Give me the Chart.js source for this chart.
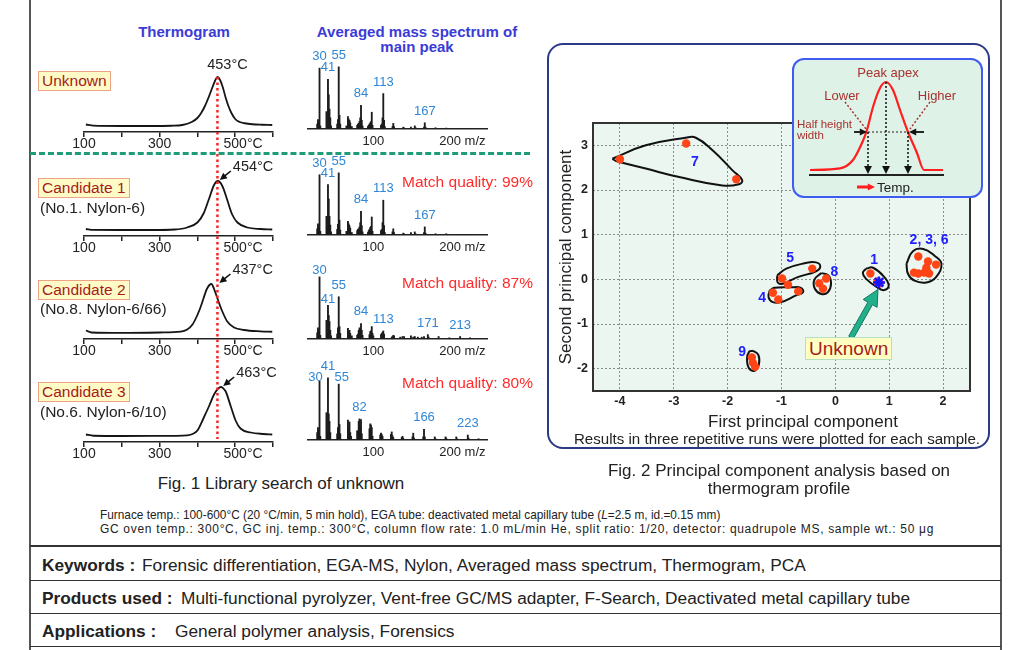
<!DOCTYPE html>
<html>
<head>
<meta charset="utf-8">
<title>EGA-MS library search of nylons and PCA of thermograms</title>
<script src="https://cdn.jsdelivr.net/npm/chart.js@4.4.1/dist/chart.umd.min.js"></script>
<style>
  body { margin: 0; background: #fff; font-family: Arial, "Liberation Sans", Helvetica, sans-serif; color: #222; }
  #page { position: relative; width: 1024px; height: 650px; overflow: hidden; }
  #page > * { position: absolute; }
  .cx { transform: translate(-50%, -50%); white-space: nowrap; }
  .lm { transform: translateY(-50%); white-space: nowrap; }
  .head { color: #3b3bd6; font-weight: bold; font-size: 15px; line-height: 15px; text-align: center; }
  .tag { background: #fffbc6; border: 1px solid #eda386; color: #a51c1c; font-size: 15.5px; line-height: 18px; padding: 0 3px; white-space: nowrap; }
  .sub { font-size: 15.5px; }
  .match { color: #ff2b2b; font-size: 15.5px; }
  .cap { font-size: 17px; line-height: 18px; text-align: center; }
  .note { font-size: 12px; }
  .row { font-size: 17.3px; }
  .hl { left: 30px; width: 971px; height: 0; border-top: 1.5px solid #333; }
  .ins { color: #a8322f; font-size: 13px; }
</style>
</head>
<body>
<div id="page">
  <div style="left:29px;top:0;width:2px;height:650px;background:#555"></div>
  <div style="left:1000px;top:0;width:2px;height:650px;background:#555"></div>

  <div class="head cx" style="left:184px;top:31px">Thermogram</div>
  <div class="head cx" style="left:417px;top:39px">Averaged mass spectrum of<br>main peak</div>

  <canvas id="th0" width="240" height="104" style="left:60px;top:50px"></canvas>
  <canvas id="th1" width="240" height="104" style="left:60px;top:154px"></canvas>
  <canvas id="th2" width="240" height="104" style="left:60px;top:257px"></canvas>
  <canvas id="th3" width="240" height="104" style="left:60px;top:360px"></canvas>
  <canvas id="ms0" width="230" height="104" style="left:290px;top:47px"></canvas>
  <canvas id="ms1" width="230" height="104" style="left:290px;top:153px"></canvas>
  <canvas id="ms2" width="230" height="104" style="left:290px;top:257px"></canvas>
  <canvas id="ms3" width="230" height="104" style="left:290px;top:358px"></canvas>

  <div style="left:30px;top:152px;width:500px;height:0;border-top:3px dashed #1e9c78"></div>

  <div class="cap cx" style="left:281px;top:484px">Fig. 1 Library search of unknown</div>

  <!-- Fig. 2 frame -->
  <div style="left:547px;top:43px;width:439px;height:402px;border:2px solid #2c3a86;border-radius:16px"></div>
  <canvas id="pca" width="437" height="326" style="left:548px;top:110px"></canvas>
  <div class="cx" style="left:803px;top:422px;font-size:17px">First principal component</div>
  <div class="cx" style="left:777px;top:438px;font-size:15.1px">Results in three repetitive runs were plotted for each sample.</div>
  <div class="tag" style="left:805px;top:337px;font-size:19px;line-height:21px;border-color:#b5dfc5;background:#ffffc2">Unknown</div>

  <div style="left:792px;top:58px;width:187px;height:136px;border:2px solid #3e5cf0;border-radius:12px;background:#def2e8"></div>
  <canvas id="inset" width="189" height="138" style="left:793px;top:59px"></canvas>
  <div class="ins cx" style="left:888px;top:72px">Peak apex</div>
  <div class="ins cx" style="left:842px;top:95px">Lower</div>
  <div class="ins cx" style="left:937px;top:95px">Higher</div>
  <div class="ins" style="left:797px;top:119px;font-size:11.5px;line-height:11px">Half height<br>width</div>
  <div class="lm" style="left:877px;top:187px;font-size:13.5px">Temp.</div>

  <div class="cap cx" style="left:779px;top:480px">Fig. 2 Principal component analysis based on<br>thermogram profile</div>

  <div class="note lm" style="left:100px;top:515px;font-size:11.85px">Furnace temp.: 100-600°C (20 °C/min, 5 min hold), EGA tube: deactivated metal capillary tube (<i>L</i>=2.5 m, id.=0.15 mm)</div>
  <div class="note lm" style="left:100px;top:529px;letter-spacing:0.68px">GC oven temp.: 300°C, GC inj. temp.: 300°C, column flow rate: 1.0 mL/min He, split ratio: 1/20, detector: quadrupole MS, sample wt.: 50 μg</div>

  <div class="hl" style="top:545px;border-top-width:2px"></div>
  <div class="hl" style="top:580px"></div>
  <div class="hl" style="top:613px"></div>
  <div class="hl" style="top:646px"></div>
  <div class="row lm" style="left:42px;top:565px"><b>Keywords :</b></div>
  <div class="row lm" style="left:142px;top:565px">Forensic differentiation, EGA-MS, Nylon, Averaged mass spectrum, Thermogram, PCA</div>
  <div class="row lm" style="left:42px;top:598px"><b>Products used :</b></div>
  <div class="row lm" style="left:181px;top:598px">Multi-functional pyrolyzer, Vent-free GC/MS adapter, F-Search, Deactivated metal capillary tube</div>
  <div class="row lm" style="left:42px;top:631px"><b>Applications :</b></div>
  <div class="row lm" style="left:175px;top:631px">General polymer analysis, Forensics</div>
</div>

<script>
// ---- Fig. 1 thermograms: furnace temperature (°C) vs. normalised ion current ----
const tempUnknown = [105, 125, 200, 280, 330, 360, 385, 400, 410, 420, 430, 440, 447, 453, 460, 467, 475, 482, 490, 500, 512, 525, 545, 570, 598];
const sigUnknown  = [5, 2.6, 2, 2, 2.5, 4, 10, 18, 28, 42, 60, 80, 93, 100, 94, 80, 58, 42, 28, 16, 10, 7.5, 5.5, 4.5, 4];
const tempCand1 = [105, 125, 200, 280, 340, 373, 400, 417, 431, 444, 454, 466, 479, 492, 506, 532, 567, 598];
const sigCand1  = [4, 2.2, 2, 2, 3, 7, 17, 36, 65, 92, 100, 90, 62, 33, 17, 7, 4, 3];
const tempCand2 = [105, 120, 200, 300, 356, 373, 387, 400, 409, 416, 425, 437, 447, 453, 466, 479, 497, 523, 567, 598];
const sigCand2  = [7, 3, 2.2, 3, 4.7, 9, 19, 38, 55, 71, 90, 100, 84, 71, 45, 25, 13, 8, 5.3, 4.5];
const tempCand3 = [105, 125, 200, 300, 373, 390, 400, 417, 431, 444, 455, 463, 470, 475, 488, 501, 514, 541, 576, 598];
const sigCand3  = [5, 2.5, 2, 2.2, 3.4, 7, 13, 39, 62, 85, 97, 100, 96, 91, 62, 33, 17, 9, 6, 5];
const apexTemps = [453, 454, 437, 463];

// ---- Fig. 1 averaged mass spectra of the main peak: m/z vs. relative abundance ----
const mzUnknown = [27,28,29,30,31,39,40,41,42,43,44,45,53,54,55,56,57,65,67,68,69,70,72,79,80,81,82,83,84,85,86,93,94,95,96,97,98,99,110,111,112,113,114,115,125,126,127,139,140,149,154,155,166,167,168,181,195,209,222];
const abUnknown = [8,15,12,98,5,28,10,80,55,32,18,5,8,15,100,22,8,5,20,16,14,10,4,6,8,9,12,18,38,14,5,4,6,8,10,12,27,6,6,8,18,57,14,4,4,9,4,3,2,3,5,2,3,10,3,2,1.5,1,1];
const mzCand1 = [27,28,29,30,31,39,40,41,42,43,44,45,53,54,55,56,57,65,67,68,69,70,72,79,80,81,82,83,84,85,86,93,94,95,96,97,98,99,110,111,112,113,114,115,125,126,127,139,140,149,154,155,166,167,168,181,195,209,222];
const abCand1 = [10,18,14,97,6,30,12,81,58,30,16,5,9,17,100,24,8,6,22,18,15,11,4,7,9,10,13,20,38,15,5,4,7,9,12,14,29,6,7,9,20,56,15,4,5,10,4,3,2,4,5,2,4,13,3,2,2,1,1];
const mzCand2 = [27,28,29,30,31,39,40,41,42,43,44,45,53,54,55,56,57,67,68,69,70,72,79,80,81,82,83,84,85,86,95,96,97,98,99,100,110,111,112,113,114,124,125,126,127,135,138,140,149,152,154,158,163,166,171,172,185,199,213,226];
const abCand2 = [10,18,14,100,6,30,10,54,38,28,14,5,8,18,68,20,9,17,12,14,9,5,6,8,14,18,16,25,14,6,7,12,13,20,9,5,7,9,11,13,8,3,4,6,5,3,4,4,5,3,4,3,3,4,7,3,4,2,4,2];
const mzCand3 = [27,28,29,30,31,39,40,41,42,43,44,53,54,55,56,57,67,68,69,70,71,79,80,81,82,83,84,85,95,96,97,98,99,109,110,111,112,123,124,125,126,137,138,139,151,152,153,165,166,167,180,181,194,195,208,209,223,224,237];
const abCand3 = [12,20,16,95,6,44,12,100,42,30,12,10,20,90,25,10,32,20,29,12,6,15,10,30,34,22,33,10,18,26,24,20,6,8,11,9,6,9,13,7,4,4,6,3,5,11,3,5,17,5,5,2,5,3,5,2,8,3,2];
const tagsUnknown = [30, 41, 55, 84, 113, 167];
const tagsCand1 = [30, 41, 55, 84, 113, 167];
const tagsCand2 = [30, 41, 55, 84, 113, 171, 213];
const tagsCand3 = [30, 41, 55, 82, 166, 223];

const rowTags = ['Unknown', 'Candidate 1', 'Candidate 2', 'Candidate 3'];
const libraryEntries = ['', '(No.1. Nylon-6)', '(No.8. Nylon-6/66)', '(No.6. Nylon-6/10)'];
const matchQuality = [null, 99, 87, 80];

// ---- Fig. 2 PCA scores (first, second principal component) ----
const pcaXTicks = [-4, -3, -2, -1, 0, 1, 2];
const pcaYTicks = [-2, -1, 0, 1, 2, 3];
const score7 = [[-4.00, 2.69], [-2.77, 3.04], [-1.84, 2.24]];
const score9 = [[-1.55, -1.75], [-1.53, -1.87], [-1.49, -1.96]];
const score5 = [[-0.99, 0.02], [-0.88, -0.12], [-0.43, 0.24]];
const score4 = [[-1.16, -0.30], [-1.06, -0.45], [-0.69, -0.27]];
const score8 = [[-0.30, -0.09], [-0.17, 0.02], [-0.23, -0.21]];
const score1 = [[0.65, 0.13], [0.78, -0.05], [0.83, -0.09]];
const score236 = [[1.54, 0.51], [1.72, 0.40], [1.87, 0.33], [1.69, 0.26], [1.46, 0.15], [1.54, 0.13], [1.65, 0.15], [1.74, 0.13], [1.69, 0.20]];
const scoreUnknown = [[0.81, -0.07]];
// hand drawn group outlines, in score units
const ring7 = [[-4.14, 2.70], [-3.52, 3.00], [-2.78, 3.17], [-2.59, 3.17], [-2.28, 2.89], [-1.91, 2.44], [-1.73, 2.22], [-1.79, 2.13], [-2.10, 2.10], [-2.90, 2.29], [-3.52, 2.48], [-4.07, 2.65], [-4.14, 2.70]];
const ring9 = [[-1.53, -1.60], [-1.43, -1.69], [-1.42, -1.91], [-1.49, -2.04], [-1.60, -2.00], [-1.64, -1.78], [-1.60, -1.62], [-1.53, -1.60]];
const ring5 = [[-1.08, 0.09], [-0.91, 0.24], [-0.57, 0.36], [-0.36, 0.38], [-0.28, 0.29], [-0.36, 0.18], [-0.70, 0.05], [-0.98, -0.10], [-1.07, -0.07], [-1.08, 0.09]];
const ring4 = [[-1.22, -0.25], [-1.13, -0.19], [-0.82, -0.18], [-0.64, -0.19], [-0.60, -0.29], [-0.73, -0.36], [-1.01, -0.51], [-1.16, -0.51], [-1.24, -0.40], [-1.22, -0.25]];
const ring8 = [[-0.26, 0.14], [-0.13, 0.09], [-0.08, -0.10], [-0.14, -0.29], [-0.26, -0.33], [-0.38, -0.21], [-0.39, -0.01], [-0.26, 0.14]];
const ring1 = [[0.57, 0.24], [0.70, 0.26], [0.91, 0.05], [0.99, -0.14], [0.91, -0.24], [0.79, -0.19], [0.57, 0.01], [0.51, 0.14], [0.57, 0.24]];
const ring236 = [[1.32, 0.35], [1.44, 0.63], [1.63, 0.68], [1.84, 0.53], [1.97, 0.35], [1.87, 0.05], [1.69, -0.07], [1.47, -0.03], [1.35, 0.12], [1.32, 0.35]];
const groupNames = ['7', '9', '5', '4', '8', '1', '2, 3, 6'];
const groupNameAt = [[-2.61, 2.62], [-1.73, -1.64], [-0.84, 0.47], [-1.36, -0.41], [-0.02, 0.15], [0.72, 0.42], [1.74, 0.87]];

// ---- inset: peak shape sketch ----
const insetX = [1, 31, 44, 53, 58, 64, 71, 77, 84, 91, 99, 108, 115, 125, 134];
const insetY = [5, 6.7, 15, 32, 45, 68, 87, 93, 85, 65, 43, 22, 5, 5, 5];

Chart.defaults.font.family = 'Arial, "Liberation Sans", sans-serif';
Chart.defaults.animation = false;
Chart.defaults.plugins.legend.display = false;
Chart.defaults.plugins.tooltip.enabled = false;

const page = document.getElementById('page');
function addText(cls, html, style) {
  const d = document.createElement('div');
  d.className = cls;
  d.innerHTML = html;
  d.setAttribute('style', style);
  page.appendChild(d);
}

const tagTops = [71, 178, 280, 382];
const subTops = [0, 208, 309, 412];
const matchTops = [0, 182, 283, 383];
rowTags.forEach((t, i) => {
  addText('tag', t, 'left:38px;top:' + tagTops[i] + 'px');
  if (libraryEntries[i]) addText('sub lm', libraryEntries[i], 'left:40px;top:' + subTops[i] + 'px');
  if (matchQuality[i] !== null) addText('match lm', 'Match quality: ' + matchQuality[i] + '%', 'left:402px;top:' + matchTops[i] + 'px');
});

function arrow(ctx, x1, y1, x2, y2, head, width, color) {
  const a = Math.atan2(y2 - y1, x2 - x1);
  ctx.save();
  ctx.setLineDash([]);
  ctx.strokeStyle = color;
  ctx.fillStyle = color;
  ctx.lineWidth = width;
  ctx.beginPath();
  ctx.moveTo(x1, y1);
  ctx.lineTo(x2 - Math.cos(a) * head * 0.8, y2 - Math.sin(a) * head * 0.8);
  ctx.stroke();
  ctx.beginPath();
  ctx.moveTo(x2, y2);
  ctx.lineTo(x2 - head * Math.cos(a - 0.45), y2 - head * Math.sin(a - 0.45));
  ctx.lineTo(x2 - head * Math.cos(a + 0.45), y2 - head * Math.sin(a + 0.45));
  ctx.closePath();
  ctx.fill();
  ctx.restore();
}

// tick numbers centred on the tick, unit written after them
function axisText(labels, font, dy) {
  return {
    id: 'axisText',
    afterDraw(chart) {
      const {ctx, chartArea} = chart;
      const sx = chart.scales.x;
      ctx.save();
      ctx.font = font;
      ctx.fillStyle = '#222';
      ctx.textBaseline = 'middle';
      labels.forEach(([v, txt, unit]) => {
        const px = sx.getPixelForValue(v);
        const w = ctx.measureText(txt).width;
        ctx.textAlign = 'center';
        ctx.fillText(txt, px, chartArea.bottom + dy);
        if (unit) {
          ctx.textAlign = 'left';
          ctx.fillText(unit, px + w / 2, chartArea.bottom + dy);
        }
      });
      ctx.restore();
    }
  };
}

function apexMarks(row) {
  return {
    id: 'apexMarks',
    afterDatasetsDraw(chart) {
      const {ctx, chartArea, scales: {x, y}} = chart;
      const top = y.getPixelForValue(100);
      // red dotted guide through the unknown's apex temperature
      const gx = x.getPixelForValue(apexTemps[0]);
      ctx.save();
      ctx.strokeStyle = '#ff2020';
      ctx.lineWidth = 2.5;
      ctx.setLineDash([2.5, 3]);
      ctx.beginPath();
      ctx.moveTo(gx, row === 0 ? top : 0);
      ctx.lineTo(gx, row === 3 ? chartArea.bottom - 3 : chart.height);
      ctx.stroke();
      ctx.restore();

      const px = x.getPixelForValue(apexTemps[row]);
      ctx.save();
      ctx.font = '14.5px Arial, "Liberation Sans", sans-serif';
      ctx.fillStyle = '#222';
      ctx.textBaseline = 'middle';
      const label = apexTemps[row] + '°C';
      if (row === 0) {
        ctx.textAlign = 'center';
        ctx.fillText(label, px + 10, top - 12);
      } else {
        const dx = row === 2 ? 6 : 0;
        ctx.textAlign = 'left';
        ctx.fillText(label, px + 15 + dx, top - 14);
        arrow(ctx, px + 13 + dx, top - 10, px + 2 + dx, top - 1, 8, 1.6, '#111');
      }
      ctx.restore();
    }
  };
}

const thermoRows = [[tempUnknown, sigUnknown], [tempCand1, sigCand1], [tempCand2, sigCand2], [tempCand3, sigCand3]];
thermoRows.forEach(([temps, sig], i) => {
  new Chart(document.getElementById('th' + i), {
    type: 'line',
    data: {
      datasets: [{
        data: temps.map((t, k) => ({x: t, y: sig[k]})),
        borderColor: '#151515',
        borderWidth: 1.8,
        pointRadius: 0,
        cubicInterpolationMode: 'monotone',
        fill: false
      }]
    },
    options: {
      responsive: false,
      layout: {padding: {left: 24, right: 27, top: 0, bottom: 0}},
      scales: {
        x: {
          type: 'linear', min: 100, max: 600,
          ticks: {stepSize: 100, display: false},
          grid: {drawOnChartArea: false, drawTicks: true, tickLength: 5, color: '#222', lineWidth: 1.5},
          border: {display: true, color: '#222', width: 1.5},
          afterFit: s => { s.height = 22; }
        },
        y: {display: false, min: -10, max: 154}
      }
    },
    plugins: [axisText([[100, '100', ''], [300, '300', ''], [500, '500', '°C']], '14px Arial, "Liberation Sans", sans-serif', 12), apexMarks(i)]
  });
});

function peakTags(mz, ab, tags, nudge) {
  return {
    id: 'peakTags',
    afterDatasetsDraw(chart) {
      const {ctx, scales: {x, y}} = chart;
      ctx.save();
      ctx.font = '13px Arial, "Liberation Sans", sans-serif';
      ctx.fillStyle = '#2f86d6';
      ctx.textAlign = 'center';
      ctx.textBaseline = 'alphabetic';
      tags.forEach(m => {
        const k = mz.indexOf(m);
        const n = nudge[m] || [0, 0];
        ctx.fillText(String(m), x.getPixelForValue(m) + n[0], y.getPixelForValue(ab[k]) - 8 + n[1]);
      });
      ctx.restore();
    }
  };
}

const specRows = [
  [mzUnknown, abUnknown, tagsUnknown, {}],
  [mzCand1, abCand1, tagsCand1, {}],
  [mzCand2, abCand2, tagsCand2, {30: [0, 5], 41: [0, 6]}],
  [mzCand3, abCand3, tagsCand3, {30: [-4, 8], 55: [3, 5]}]
];
specRows.forEach(([mz, ab, tags, nudge], i) => {
  new Chart(document.getElementById('ms' + i), {
    type: 'bar',
    data: {
      datasets: [{
        data: mz.map((m, k) => ({x: m, y: ab[k]})),
        backgroundColor: '#1c1c1c',
        borderWidth: 0,
        barThickness: 1.2,
        grouped: false
      }]
    },
    options: {
      responsive: false,
      layout: {padding: {left: 18, right: 33, top: 0, bottom: 0}},
      scales: {
        x: {
          type: 'linear', min: 15, max: 248, offset: false,
          ticks: {display: false},
          grid: {display: false, offset: false},
          border: {display: true, color: '#222', width: 1.5},
          afterFit: s => { s.height = 22; }
        },
        y: {display: false, min: 0, max: 132}
      }
    },
    plugins: [axisText([[100, '100', ''], [200, '200', ' m/z']], '13px Arial, "Liberation Sans", sans-serif', 12), peakTags(mz, ab, tags, nudge)]
  });
});

// ---- Fig. 2 ----
const pts = a => a.map(([x, y]) => ({x, y}));
const allScores = [].concat(score7, score9, score5, score4, score8, score1, score236);
const rings = [ring7, ring9, ring5, ring4, ring8, ring1, ring236];

const pcaDecor = {
  id: 'pcaDecor',
  beforeDraw(chart) {
    const {ctx, chartArea: a} = chart;
    ctx.save();
    ctx.fillStyle = '#ebf6f1';
    ctx.fillRect(a.left, a.top, a.right - a.left, a.bottom - a.top);
    ctx.restore();
  },
  afterDraw(chart) {
    const {ctx, chartArea: a, scales: {x, y}} = chart;
    ctx.save();
    ctx.strokeStyle = '#333';
    ctx.lineWidth = 2;
    ctx.strokeRect(a.left, a.top, a.right - a.left, a.bottom - a.top);
    ctx.font = 'bold 14px Arial, "Liberation Sans", sans-serif';
    ctx.fillStyle = '#2020ff';
    ctx.textAlign = 'center';
    ctx.textBaseline = 'middle';
    groupNames.forEach((g, i) => {
      ctx.fillText(g, x.getPixelForValue(groupNameAt[i][0]), y.getPixelForValue(groupNameAt[i][1]));
    });
    // arrow from the "Unknown" tag to its score
    const sx = x.getPixelForValue(scoreUnknown[0][0]), sy = y.getPixelForValue(scoreUnknown[0][1]);
    const tx = sx - 1, ty = sy + 7, bx = tx - 27, by = ty + 48;
    const ang = Math.atan2(ty - by, tx - bx), nx = -Math.sin(ang), ny = Math.cos(ang);
    const hl = 16, hw = 8, sw = 2.6;
    const hx = tx - Math.cos(ang) * hl, hy = ty - Math.sin(ang) * hl;
    ctx.beginPath();
    ctx.moveTo(bx + nx * sw, by + ny * sw);
    ctx.lineTo(hx + nx * sw, hy + ny * sw);
    ctx.lineTo(hx + nx * hw, hy + ny * hw);
    ctx.lineTo(tx, ty);
    ctx.lineTo(hx - nx * hw, hy - ny * hw);
    ctx.lineTo(hx - nx * sw, hy - ny * sw);
    ctx.lineTo(bx - nx * sw, by - ny * sw);
    ctx.closePath();
    ctx.fillStyle = '#22b08a';
    ctx.strokeStyle = '#137a5f';
    ctx.lineWidth = 1;
    ctx.fill();
    ctx.stroke();
    ctx.restore();
  }
};

new Chart(document.getElementById('pca'), {
  type: 'scatter',
  data: {
    datasets: [
      {data: pts(scoreUnknown), pointStyle: 'star', pointRadius: 6, borderColor: '#1515ff', borderWidth: 2.5, backgroundColor: '#1515ff'},
      {data: pts(allScores), pointRadius: 4.2, backgroundColor: '#ff4515', borderWidth: 0}
    ].concat(rings.map(r => ({
      data: pts(r), showLine: true, borderColor: '#111', borderWidth: 2, pointRadius: 0, tension: 0.45, fill: false
    })))
  },
  options: {
    responsive: false,
    layout: {padding: {left: 4, right: 15, top: 13, bottom: 0}},
    scales: {
      x: {
        type: 'linear', min: -4.5, max: 2.5,
        afterBuildTicks: s => { s.ticks = pcaXTicks.map(v => ({value: v})); },
        ticks: {padding: 3, color: '#222', font: {size: 12.5, weight: 'bold'}},
        grid: {color: '#8c8c8c', lineWidth: 1, drawTicks: false},
        border: {display: false, dash: [2, 2]},
        afterFit: s => { s.height = 45; }
      },
      y: {
        type: 'linear', min: -2.5, max: 3.5,
        afterBuildTicks: s => { s.ticks = pcaYTicks.map(v => ({value: v})); },
        ticks: {padding: 5, color: '#222', font: {size: 12.5, weight: 'bold'}},
        grid: {color: '#8c8c8c', lineWidth: 1, drawTicks: false},
        border: {display: false, dash: [2, 2]},
        title: {display: true, text: 'Second principal component', color: '#222', font: {size: 17}, padding: {top: 4, bottom: 4}},
        afterFit: s => { s.width = 41; }
      }
    }
  },
  plugins: [pcaDecor]
});

// inset sketch: apex, lower and higher half-height temperatures
const lowerX = 59, apexX = 77, higherX = 99, halfY = 43;
const insetMarks = {
  id: 'insetMarks',
  afterDraw(chart) {
    const {ctx, chartArea: a, scales: {x, y}} = chart;
    const base = y.getPixelForValue(0);
    ctx.save();
    ctx.strokeStyle = '#222';
    ctx.lineWidth = 2;
    ctx.beginPath();
    ctx.moveTo(x.getPixelForValue(0), base);
    ctx.lineTo(x.getPixelForValue(135), base);
    ctx.stroke();
    // half height line
    ctx.strokeStyle = '#666';
    ctx.lineWidth = 1.5;
    ctx.setLineDash([2, 2]);
    ctx.beginPath();
    ctx.moveTo(x.getPixelForValue(lowerX), y.getPixelForValue(halfY));
    ctx.lineTo(x.getPixelForValue(higherX), y.getPixelForValue(halfY));
    ctx.stroke();
    // pointers from the words
    ctx.strokeStyle = '#a8322f';
    ctx.beginPath();
    ctx.moveTo(x.getPixelForValue(36), y.getPixelForValue(73));
    ctx.lineTo(x.getPixelForValue(lowerX - 2), y.getPixelForValue(halfY + 3));
    ctx.moveTo(x.getPixelForValue(121), y.getPixelForValue(73));
    ctx.lineTo(x.getPixelForValue(higherX + 2), y.getPixelForValue(halfY + 3));
    ctx.stroke();
    // dotted drops to the temperature axis
    ctx.strokeStyle = '#111';
    [[lowerX, halfY], [apexX, 93], [higherX, halfY]].forEach(([vx, vy]) => {
      const px = x.getPixelForValue(vx);
      ctx.setLineDash([2, 2]);
      ctx.beginPath();
      ctx.moveTo(px, y.getPixelForValue(vy));
      ctx.lineTo(px, base - 8);
      ctx.stroke();
      arrow(ctx, px, base - 9, px, base - 1, 9, 1.5, '#111');
    });
    const hy = y.getPixelForValue(halfY);
    arrow(ctx, x.getPixelForValue(lowerX) - 14, hy, x.getPixelForValue(lowerX) - 1, hy, 8, 1.8, '#111');
    arrow(ctx, x.getPixelForValue(higherX) + 16, hy, x.getPixelForValue(higherX) + 1, hy, 8, 1.8, '#111');
    arrow(ctx, x.getPixelForValue(48), a.bottom + 12, x.getPixelForValue(66), a.bottom + 12, 8, 3, '#ff1f1f');
    ctx.restore();
  }
};

new Chart(document.getElementById('inset'), {
  type: 'line',
  data: {
    datasets: [{
      data: insetX.map((v, k) => ({x: v, y: insetY[k]})),
      borderColor: '#ff1f1f', borderWidth: 2.2, pointRadius: 0,
      cubicInterpolationMode: 'monotone', fill: false
    }]
  },
  options: {
    responsive: false,
    layout: {padding: {left: 16, right: 38, top: 16, bottom: 22}},
    scales: {
      x: {type: 'linear', display: false, min: 0, max: 135},
      y: {display: false, min: 0, max: 100}
    }
  },
  plugins: [insetMarks]
});
</script>
</body>
</html>
